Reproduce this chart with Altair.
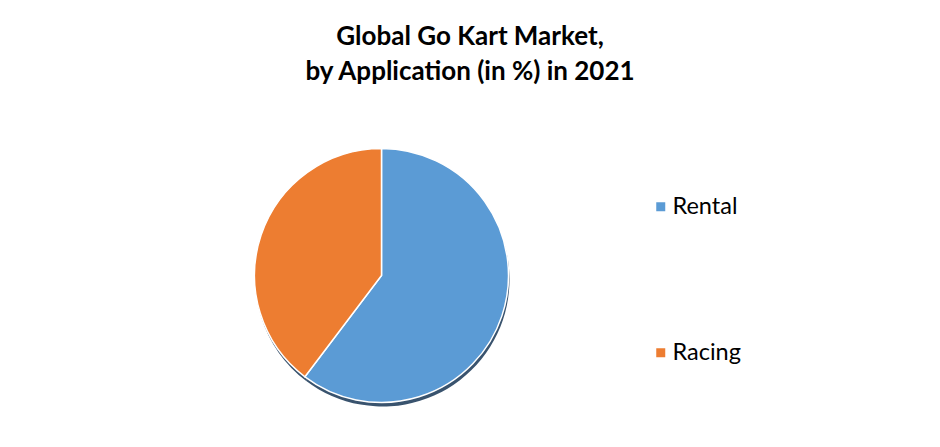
import altair as alt
import pandas as pd

categories = ["Rental", "Racing"]
shares = [60.3, 39.7]
colors = ["#5B9BD5", "#ED7D31"]
title_lines = ["Global Go Kart Market,", "by Application (in %) in 2021"]

df = pd.DataFrame({"Application": categories, "Share": shares, "idx": [0, 1]})
tdf = pd.DataFrame({"line": title_lines, "row": [0, 1]})

cx, cy, r = 373.5, 267.5, 127

shadow = alt.Chart(df).mark_arc(radius=r, color="#24405E", opacity=0.9).encode(
    theta=alt.Theta("Share:Q", stack=True),
    order=alt.Order("idx:Q"),
    x=alt.value(cx + 1),
    y=alt.value(cy + 4),
)

pie = alt.Chart(df).mark_arc(radius=r, stroke="white", strokeWidth=1.5).encode(
    theta=alt.Theta("Share:Q", stack=True),
    order=alt.Order("idx:Q"),
    color=alt.Color(
        "Application:N",
        scale=alt.Scale(domain=categories, range=colors),
        sort=categories,
        legend=alt.Legend(
            title=None,
            orient="none",
            legendX=641,
            legendY=187,
            padding=0,
            symbolType="square",
            symbolSize=81,
            symbolStrokeWidth=0,
            labelFont="Lato",
            labelFontSize=23.5,
            labelColor="#000000",
            labelOffset=0,
            rowPadding=121,
        ),
    ),
    x=alt.value(cx),
    y=alt.value(cy),
    tooltip=["Application:N", "Share:Q"],
)

title = alt.Chart(tdf).mark_text(
    font="Lato", fontSize=26, fontWeight="bold", color="#000000", baseline="middle", align="center"
).encode(
    text="line:N",
    x=alt.value(462),
    y=alt.Y("row:Q", scale=alt.Scale(domain=[0, 1], range=[29, 64]), axis=None),
)

chart = alt.layer(shadow, pie, title).properties(
    width=924, height=431, autosize="none", padding=0, background="white"
).configure_view(stroke=None)

chart.save("out.html", embed_options={"renderer": "svg", "actions": False})
